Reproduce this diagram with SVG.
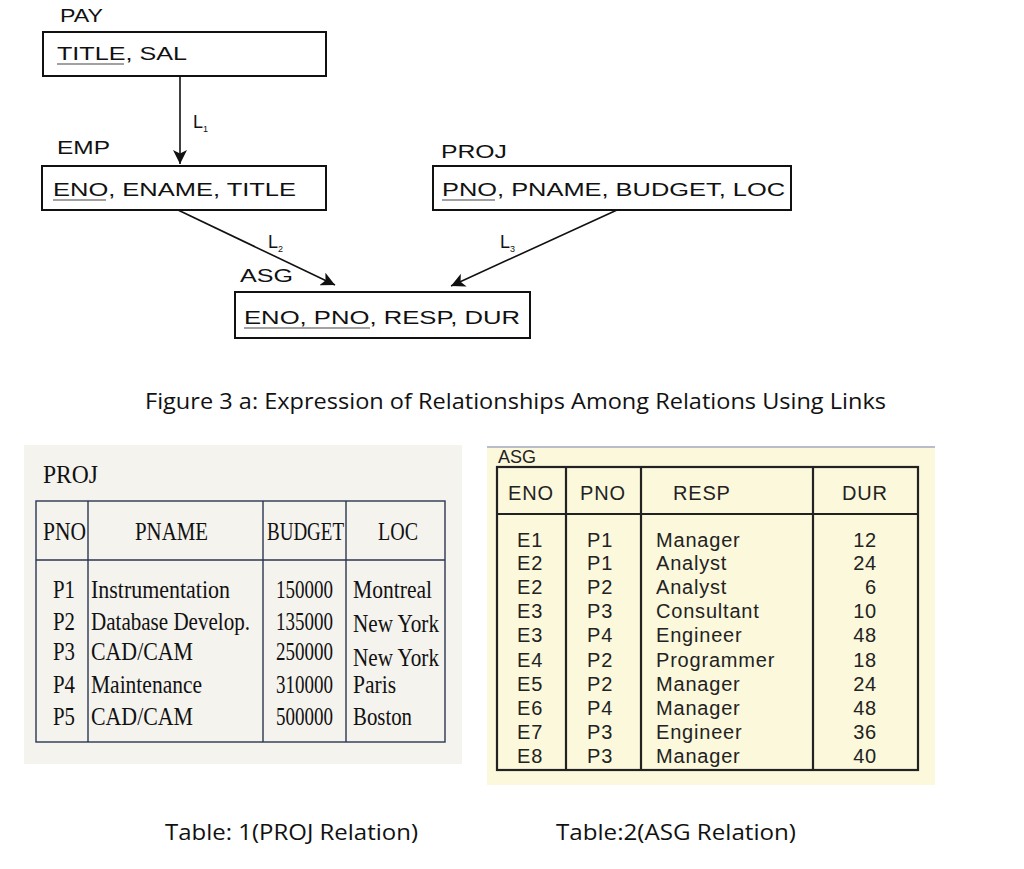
<svg xmlns="http://www.w3.org/2000/svg" width="1024" height="869" viewBox="0 0 1024 869">
<style>
.s{font-family:"Liberation Sans",Arial,sans-serif;fill:#111}
.d{font-size:19px}
.box{fill:#fff;stroke:#111;stroke-width:2}
.ln{stroke:#111;stroke-width:1.6;fill:none}
.ul{stroke:#444;stroke-width:1.2}
.cap{font-family:"Open Sans","Liberation Sans",sans-serif;font-size:21px;fill:#111}
.pf{font-family:"Liberation Serif","Times New Roman",serif;font-size:26px;fill:#111}
.af{font-family:"Liberation Sans",Arial,sans-serif;font-size:20px;letter-spacing:0.8px;fill:#222}
.tl{stroke:#2a3550;stroke-width:1.4;fill:none}
.al{stroke:#222;stroke-width:2.2;fill:none}
</style>
<defs>
<marker id="ah2" viewBox="0 0 12 12" refX="12" refY="6" markerWidth="14" markerHeight="14" markerUnits="userSpaceOnUse" orient="auto"><path d="M0,0 L12,6 L0,12 L3,6 z" fill="#111"/></marker>
</defs>
<rect width="1024" height="869" fill="#fff"/>

<g id="connectors">
<line class="ln" x1="180" y1="76" x2="180" y2="164" marker-end="url(#ah2)"/>
<line class="ln" x1="178" y1="210" x2="335" y2="285" marker-end="url(#ah2)"/>
<line class="ln" x1="617" y1="210" x2="451" y2="286" marker-end="url(#ah2)"/>
<text class="s" x="193" y="128" font-size="18">L<tspan font-size="9" dy="4">1</tspan></text>
<text class="s" x="268" y="248" font-size="18">L<tspan font-size="9" dy="4">2</tspan></text>
<text class="s" x="500" y="248" font-size="18">L<tspan font-size="9" dy="4">3</tspan></text>
</g>

<g id="pay">
<text class="s d" x="60" y="22" textLength="43" lengthAdjust="spacingAndGlyphs">PAY</text>
<rect class="box" x="43" y="32" width="283" height="44"/>
<text class="s d" x="57" y="60" textLength="130" lengthAdjust="spacingAndGlyphs">TITLE, SAL</text>
<line class="ul" x1="57" y1="64" x2="124" y2="64"/>
</g>
<g id="emp">
<text class="s d" x="57" y="154" textLength="53" lengthAdjust="spacingAndGlyphs">EMP</text>
<rect class="box" x="42" y="166" width="284" height="44"/>
<text class="s d" x="53" y="196" textLength="243" lengthAdjust="spacingAndGlyphs">ENO, ENAME, TITLE</text>
<line class="ul" x1="53" y1="200" x2="106" y2="200"/>
</g>
<g id="proj">
<text class="s d" x="441" y="158" textLength="66" lengthAdjust="spacingAndGlyphs">PROJ</text>
<rect class="box" x="433" y="166" width="358" height="44"/>
<text class="s d" x="442" y="196" textLength="343" lengthAdjust="spacingAndGlyphs">PNO, PNAME, BUDGET, LOC</text>
<line class="ul" x1="442" y1="200" x2="495" y2="200"/>
</g>
<g id="asg">
<text class="s d" x="240" y="282" textLength="53" lengthAdjust="spacingAndGlyphs">ASG</text>
<rect class="box" x="235" y="292" width="295" height="46"/>
<text class="s d" x="244" y="324" textLength="276" lengthAdjust="spacingAndGlyphs">ENO, PNO, RESP, DUR</text>
<line class="ul" x1="244" y1="328" x2="370" y2="328"/>
</g>

<text class="cap" x="145" y="409" textLength="741" lengthAdjust="spacingAndGlyphs">Figure 3 a: Expression of Relationships Among Relations Using Links</text>

<g id="projtable">
<rect x="24" y="445" width="438" height="319" fill="#f5f3ee"/>
<text class="pf" x="43" y="483" textLength="55" lengthAdjust="spacingAndGlyphs">PROJ</text>
<rect class="tl" x="36" y="501" width="409" height="241"/>
<line class="tl" x1="36" y1="560" x2="445" y2="560"/>
<line class="tl" x1="88" y1="501" x2="88" y2="742"/>
<line class="tl" x1="263" y1="501" x2="263" y2="742"/>
<line class="tl" x1="346" y1="501" x2="346" y2="742"/>
<text class="pf" x="43" y="540" textLength="43" lengthAdjust="spacingAndGlyphs">PNO</text>
<text class="pf" x="135" y="540" textLength="73" lengthAdjust="spacingAndGlyphs">PNAME</text>
<text class="pf" x="267" y="540" textLength="77" lengthAdjust="spacingAndGlyphs">BUDGET</text>
<text class="pf" x="378" y="540" textLength="40" lengthAdjust="spacingAndGlyphs">LOC</text>
<text class="pf" x="53" y="598" textLength="22" lengthAdjust="spacingAndGlyphs">P1</text>
<text class="pf" x="53" y="630" textLength="22" lengthAdjust="spacingAndGlyphs">P2</text>
<text class="pf" x="53" y="660" textLength="22" lengthAdjust="spacingAndGlyphs">P3</text>
<text class="pf" x="53" y="693" textLength="22" lengthAdjust="spacingAndGlyphs">P4</text>
<text class="pf" x="53" y="725" textLength="22" lengthAdjust="spacingAndGlyphs">P5</text>
<text class="pf" x="91" y="598" textLength="139" lengthAdjust="spacingAndGlyphs">Instrumentation</text>
<text class="pf" x="91" y="630" textLength="159" lengthAdjust="spacingAndGlyphs">Database Develop.</text>
<text class="pf" x="91" y="660" textLength="102" lengthAdjust="spacingAndGlyphs">CAD/CAM</text>
<text class="pf" x="91" y="693" textLength="111" lengthAdjust="spacingAndGlyphs">Maintenance</text>
<text class="pf" x="91" y="725" textLength="102" lengthAdjust="spacingAndGlyphs">CAD/CAM</text>
<text class="pf" x="276" y="598" textLength="57" lengthAdjust="spacingAndGlyphs">150000</text>
<text class="pf" x="276" y="630" textLength="57" lengthAdjust="spacingAndGlyphs">135000</text>
<text class="pf" x="276" y="660" textLength="57" lengthAdjust="spacingAndGlyphs">250000</text>
<text class="pf" x="276" y="693" textLength="57" lengthAdjust="spacingAndGlyphs">310000</text>
<text class="pf" x="276" y="725" textLength="57" lengthAdjust="spacingAndGlyphs">500000</text>
<text class="pf" x="353" y="598" textLength="79" lengthAdjust="spacingAndGlyphs">Montreal</text>
<text class="pf" x="353" y="632" textLength="86" lengthAdjust="spacingAndGlyphs">New York</text>
<text class="pf" x="353" y="666" textLength="86" lengthAdjust="spacingAndGlyphs">New York</text>
<text class="pf" x="353" y="693" textLength="43" lengthAdjust="spacingAndGlyphs">Paris</text>
<text class="pf" x="353" y="725" textLength="59" lengthAdjust="spacingAndGlyphs">Boston</text>
</g>

<g id="asgtable">
<rect x="487" y="447" width="448" height="338" fill="#fbf8dc"/>
<line x1="487" y1="447" x2="935" y2="447" stroke="#b8bccb" stroke-width="2"/>
<text class="af" x="498" y="463" style="letter-spacing:0;font-size:18px">ASG</text>
<rect class="al" x="497" y="467" width="421" height="303"/>
<line class="al" x1="497" y1="514" x2="918" y2="514"/>
<line class="al" x1="566" y1="467" x2="566" y2="770"/>
<line class="al" x1="641" y1="467" x2="641" y2="770"/>
<line class="al" x1="813" y1="467" x2="813" y2="770"/>
<text class="af" x="508" y="500">ENO</text>
<text class="af" x="580" y="500">PNO</text>
<text class="af" x="673" y="500">RESP</text>
<text class="af" x="842" y="500">DUR</text>
<g class="af">
<text x="517" y="547">E1</text><text x="587" y="547">P1</text><text x="656" y="547">Manager</text><text x="877" y="547" text-anchor="end">12</text>
<text x="517" y="570">E2</text><text x="587" y="570">P1</text><text x="656" y="570">Analyst</text><text x="877" y="570" text-anchor="end">24</text>
<text x="517" y="594">E2</text><text x="587" y="594">P2</text><text x="656" y="594">Analyst</text><text x="877" y="594" text-anchor="end">6</text>
<text x="517" y="618">E3</text><text x="587" y="618">P3</text><text x="656" y="618">Consultant</text><text x="877" y="618" text-anchor="end">10</text>
<text x="517" y="642">E3</text><text x="587" y="642">P4</text><text x="656" y="642">Engineer</text><text x="877" y="642" text-anchor="end">48</text>
<text x="517" y="667">E4</text><text x="587" y="667">P2</text><text x="656" y="667">Programmer</text><text x="877" y="667" text-anchor="end">18</text>
<text x="517" y="691">E5</text><text x="587" y="691">P2</text><text x="656" y="691">Manager</text><text x="877" y="691" text-anchor="end">24</text>
<text x="517" y="715">E6</text><text x="587" y="715">P4</text><text x="656" y="715">Manager</text><text x="877" y="715" text-anchor="end">48</text>
<text x="517" y="739">E7</text><text x="587" y="739">P3</text><text x="656" y="739">Engineer</text><text x="877" y="739" text-anchor="end">36</text>
<text x="517" y="763">E8</text><text x="587" y="763">P3</text><text x="656" y="763">Manager</text><text x="877" y="763" text-anchor="end">40</text>
</g>
</g>

<text class="cap" x="165" y="840" textLength="253" lengthAdjust="spacingAndGlyphs">Table: 1(PROJ Relation)</text>
<text class="cap" x="556" y="840" textLength="240" lengthAdjust="spacingAndGlyphs">Table:2(ASG Relation)</text>
</svg>
